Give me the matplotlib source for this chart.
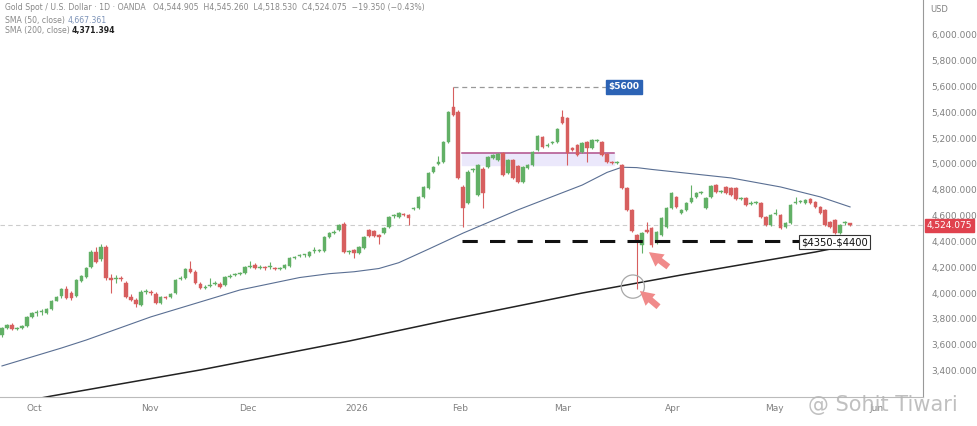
import numpy as np
import matplotlib.pyplot as plt

# daily candles, Sep 2025 .. May 2026
opens = [3675, 3729, 3752, 3721, 3730, 3748, 3815, 3842, 3850, 3848,
         3876, 3942, 3975, 4028, 4000, 3975, 4094, 4125, 4202, 4318,
         4265, 4357, 4117, 4105, 4112, 4080, 3969, 3946, 3907, 4005,
         4010, 3993, 3923, 3966, 3969, 4000, 4110, 4117, 4187, 4163,
         4070, 4042, 4055, 4070, 4070, 4063, 4125, 4140, 4150, 4156,
         4205, 4218, 4196, 4198, 4198, 4195, 4189, 4194, 4210, 4274,
         4285, 4293, 4287, 4322, 4326, 4326, 4434, 4468, 4489, 4535,
         4318, 4334, 4310, 4349, 4489, 4481, 4450, 4465, 4512, 4594,
         4590, 4610, 4605, 4650, 4659, 4745, 4814, 4938, 5000, 5016,
         5171, 5442, 5403, 4822, 4698, 4950, 4760, 4961, 4977, 5047,
         5031, 5086, 4930, 5031, 4985, 4861, 4969, 4992, 5109, 5210,
         5140, 5165, 5171, 5364, 5357, 5124, 5148, 5093, 5171, 5124,
         5175, 5171, 5078, 5012, 5008, 4992, 4814, 4644, 4450, 4372,
         4489, 4504, 4388, 4450, 4512, 4659, 4745, 4620, 4644, 4706,
         4745, 4772, 4659, 4745, 4837, 4780, 4822, 4814, 4814, 4726,
         4737, 4692, 4698, 4698, 4590, 4527, 4615, 4605, 4512, 4543,
         4700, 4706, 4698, 4729, 4706, 4667, 4644, 4551, 4566, 4465,
         4540, 4544.905]
highs = [3740, 3760, 3765, 3738, 3752, 3822, 3852, 3868, 3875, 3885,
         3945, 3978, 4040, 4055, 4015, 4110, 4140, 4200, 4330, 4360,
         4381, 4370, 4150, 4140, 4135, 4095, 3990, 3965, 4020, 4030,
         4025, 4005, 3980, 3980, 4000, 4110, 4130, 4195, 4245, 4175,
         4085, 4065, 4117, 4090, 4082, 4135, 4145, 4155, 4165, 4210,
         4245, 4230, 4215, 4210, 4241, 4205, 4205, 4226, 4280, 4290,
         4305, 4305, 4325, 4357, 4340, 4442, 4472, 4485, 4535, 4550,
         4335, 4345, 4365, 4442, 4500, 4490, 4460, 4512, 4598, 4610,
         4628, 4620, 4612, 4668, 4752, 4830, 4938, 4985, 5060, 5180,
         5410, 5597, 5420, 4835, 4950, 4970, 5000, 4975, 5062, 5078,
         5085, 5095, 5040, 5040, 4995, 4985, 5000, 5100, 5225, 5220,
         5160, 5180, 5280, 5420, 5365, 5135, 5156, 5170, 5180, 5195,
         5190, 5180, 5085, 5025, 5020, 5000, 4822, 4652, 4458, 4472,
         4550, 4515, 4480, 4590, 4666, 4785, 4752, 4652, 4706, 4837,
         4783, 4790, 4745, 4837, 4845, 4795, 4830, 4822, 4822, 4745,
         4745, 4710, 4712, 4706, 4598, 4612, 4650, 4612, 4550, 4690,
         4745, 4720, 4730, 4740, 4713, 4675, 4652, 4560, 4575, 4535,
         4555, 4545.26]
lows = [3660, 3720, 3712, 3710, 3722, 3740, 3805, 3825, 3830, 3840,
        3870, 3935, 3965, 3955, 3945, 3968, 4085, 4115, 4195, 4230,
        4250, 4100, 4004, 4080, 4090, 3960, 3935, 3890, 3900, 3990,
        3985, 3915, 3915, 3950, 3960, 3995, 4100, 4110, 4155, 4070,
        4030, 4030, 4045, 4060, 4040, 4055, 4115, 4130, 4142, 4150,
        4195, 4185, 4185, 4180, 4190, 4178, 4180, 4188, 4205, 4265,
        4278, 4282, 4280, 4312, 4315, 4320, 4425, 4460, 4480, 4310,
        4305, 4272, 4300, 4340, 4435, 4435, 4380, 4455, 4505, 4585,
        4582, 4598, 4527, 4640, 4650, 4738, 4805, 4930, 4990, 5008,
        5165, 5370, 4880, 4512, 4690, 4940, 4750, 4659, 4970, 5040,
        5025, 4905, 4922, 4880, 4855, 4855, 4960, 4985, 5100, 5125,
        5130, 5158, 5165, 5310, 4992, 5100, 5062, 5085, 5016, 5118,
        5170, 5062, 5010, 5000, 4998, 4805, 4636, 4473, 4030, 4310,
        4465, 4360, 4380, 4442, 4505, 4650, 4660, 4612, 4636, 4698,
        4738, 4765, 4650, 4738, 4775, 4772, 4768, 4752, 4722, 4718,
        4675, 4685, 4690, 4582, 4520, 4520, 4605, 4497, 4505, 4536,
        4690, 4695, 4690, 4692, 4660, 4612, 4520, 4505, 4458, 4458,
        4530, 4518.53]
closes = [3729, 3750, 3721, 3730, 3745, 3815, 3845, 3850, 3855, 3876,
          3938, 3969, 4031, 3962, 3962, 4101, 4132, 4194, 4318, 4241,
          4357, 4117, 4101, 4112, 4108, 3969, 3946, 3915, 4008, 4012,
          4000, 3923, 3969, 3962, 3993, 4101, 4117, 4187, 4163, 4078,
          4039, 4047, 4063, 4078, 4047, 4125, 4132, 4148, 4156, 4202,
          4212, 4194, 4202, 4194, 4202, 4187, 4194, 4218, 4272, 4280,
          4295, 4295, 4318, 4326, 4328, 4434, 4465, 4473, 4527, 4318,
          4320, 4310, 4357, 4434, 4442, 4442, 4434, 4504, 4590, 4598,
          4620, 4605, 4582, 4659, 4745, 4822, 4930, 4977, 5016, 5171,
          5403, 5380, 4892, 4659, 4938, 4954, 4992, 4776, 5055, 5070,
          5078, 4915, 5031, 4892, 4861, 4977, 4992, 5093, 5217, 5132,
          5148, 5171, 5271, 5318, 5086, 5109, 5070, 5163, 5124, 5186,
          5179, 5070, 5016, 5008, 5008, 4814, 4644, 4481, 4396, 4465,
          4473, 4372, 4473, 4582, 4659, 4776, 4667, 4644, 4698, 4737,
          4776, 4780, 4737, 4830, 4783, 4786, 4776, 4760, 4729, 4732,
          4682, 4698, 4702, 4590, 4527, 4605, 4620, 4504, 4543, 4682,
          4706, 4710, 4721, 4698, 4667, 4620, 4527, 4512, 4465, 4527,
          4543, 4524.075]

sma50_idx = [0, 12, 17, 30, 48, 60, 66, 71, 76, 80, 86, 93, 104, 117, 122, 125, 128,
             131, 139, 147, 157, 165, 171]
sma50_val = [3435, 3574, 3636, 3815, 4024, 4120, 4150, 4165, 4190, 4235, 4340, 4465,
             4644, 4837, 4935, 4975, 4972, 4958, 4925, 4892, 4822, 4745, 4667.361]
sma200_idx = [0, 10, 40, 70, 90, 117, 137, 164, 171]
sma200_val = [3130, 3202, 3404, 3628, 3791, 4000, 4140, 4318, 4371.394]

month_labels = ["Oct", "Nov", "Dec", "2026", "Feb", "Mar", "Apr", "May", "Jun"]
month_pos = [6.6, 29.8, 49.6, 71.6, 92.3, 113.1, 135.3, 155.8, 176.4]
price_ticks = list(range(3400, 6001, 200))

GREEN = "#62b066"
RED = "#d75f5f"
GREY = "#808080"

o = np.array(opens, dtype=float)
h = np.array(highs, dtype=float)
l = np.array(lows, dtype=float)
c = np.array(closes, dtype=float)
x = np.arange(len(c))
cols = np.where(c >= o, GREEN, RED)

fig = plt.figure(figsize=(9.77, 4.26), dpi=100)
ax = fig.add_axes([0, 0.068, 0.9447, 0.932])

# current price line
ax.axhline(closes[-1], color="#cccccc", lw=0.8, ls=(0, (4, 3)), zorder=1)

# resistance zone (magenta line + lavender band)
ax.fill_between([92.7, 123.5], 4992, 5086, color="#ebe8fb", zorder=1)
ax.plot([92.7, 123.5], [5086, 5086], color="#b0508a", lw=1.1, zorder=2)

# moving averages
ax.plot(sma200_idx, sma200_val, color="#222222", lw=1.1, zorder=2)
ax.plot(sma50_idx, sma50_val, color="#5a6f93", lw=0.8, zorder=2)

# candles
ax.vlines(x, l, h, colors=cols, lw=0.8, zorder=3)
ax.bar(x, np.maximum(np.abs(c - o), 8), bottom=np.minimum(o, c), width=0.72,
       color=cols, edgecolor=cols, linewidth=0.3, zorder=4)

# $5600 top level
ax.plot([91, 122], [5597, 5597], color="#999999", lw=0.9, ls=(0, (4, 3)), zorder=2)
ax.text(122.3, 5597, "\\$5600", fontsize=6.5, color="white", fontweight="bold",
        va="center", ha="left", zorder=6,
        bbox=dict(boxstyle="square,pad=0.25", fc="#2c63b5", ec="#2c63b5"))

# $4350-$4400 support
ax.plot([92.7, 161], [4403, 4403], color="#111111", lw=2.2, ls=(0, (5, 4)), zorder=5)
ax.text(161.2, 4395, "\\$4350-\\$4400", fontsize=7.2, color="#111111", va="center",
        ha="left", zorder=6,
        bbox=dict(boxstyle="square,pad=0.2", fc="white", ec="#333333", lw=0.8))

# circle around the long lower wick + arrows
ax.scatter([127.2], [4050], s=280, facecolors="none", edgecolors="#a8a8a8",
           linewidths=0.9, zorder=6)
arrow = dict(arrowstyle="simple,head_width=1.1,head_length=1.0,tail_width=0.45",
             color="#f08a8a", lw=0)
ax.annotate("", xy=(130.0, 4330), xytext=(134.8, 4190), arrowprops=arrow, zorder=7)
ax.annotate("", xy=(128.2, 4030), xytext=(132.8, 3880), arrowprops=arrow, zorder=7)

ax.set_xlim(-0.4, 185.7)
ax.set_ylim(3194, 6271)

ax.yaxis.tick_right()
ax.set_yticks(price_ticks)
ax.set_yticklabels([f"{v:,.3f}" for v in price_ticks])
ax.set_xticks(month_pos)
ax.set_xticklabels(month_labels)
ax.tick_params(axis="both", length=0, labelsize=6.5, labelcolor=GREY)
ax.tick_params(axis="y", pad=6)
ax.tick_params(axis="x", pad=5)
for side in ["top", "left"]:
    ax.spines[side].set_visible(False)
ax.spines["right"].set_color("#999999")
ax.spines["bottom"].set_color("#bbbbbb")

# last price tag on the axis
ax.text(1.004, closes[-1], f"{closes[-1]:,.3f}", transform=ax.get_yaxis_transform(),
        fontsize=6.5, color="white", va="center", ha="left", zorder=8,
        bbox=dict(boxstyle="square,pad=0.2", fc="#e0424e", ec="#e0424e"), clip_on=False)

fig.text(930 / 977, 1 - 9 / 426, "USD", fontsize=6, color=GREY, va="center")

# header
fig.text(5 / 977, 1 - 8 / 426,
         "Gold Spot / U.S. Dollar \u00b7 1D \u00b7 OANDA   O4,544.905  H4,545.260  L4,518.530  C4,524.075  \u221219.350 (\u22120.43%)",
         fontsize=5.6, color="#888888", va="center")
fig.text(5 / 977, 1 - 20 / 426, "SMA (50, close)", fontsize=5.6, color="#888888", va="center")
fig.text(68 / 977, 1 - 20 / 426, "4,667.361", fontsize=5.6, color="#7d93b8", va="center")
fig.text(5 / 977, 1 - 31 / 426, "SMA (200, close)", fontsize=5.6, color="#888888", va="center")
fig.text(72 / 977, 1 - 31 / 426, "4,371.394", fontsize=5.6, color="#222222",
         fontweight="bold", va="center")

# watermark
fig.text(808 / 977, 1 - 405 / 426, "@ Sohit Tiwari", fontsize=15, color="#b5b5b5",
         alpha=0.85, va="center", ha="left")

fig.savefig("out.png", dpi=100)
